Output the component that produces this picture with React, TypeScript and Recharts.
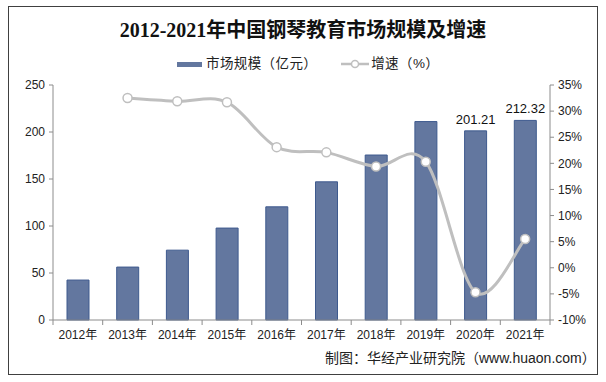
import React from 'react';
import { ComposedChart, Bar, Line, XAxis, YAxis, LabelList } from 'recharts';

const years = ['2012年', '2013年', '2014年', '2015年', '2016年', '2017年', '2018年', '2019年', '2020年', '2021年'];
const marketSize = [42.5, 56.3, 74.3, 97.8, 120.4, 147.0, 175.5, 211.1, 201.21, 212.32];
const growthRate = [null, 32.5, 31.9, 31.7, 23.1, 22.1, 19.4, 20.3, -4.7, 5.52];
const sizeTicks = [0, 50, 100, 150, 200, 250];
const rateTicks = [-10, -5, 0, 5, 10, 15, 20, 25, 30, 35];
const labelledYears = ['2020年', '2021年'];

const data = years.map((year, i) => ({ year, size: marketSize[i], rate: growthRate[i] }));

const W = 606;
const H = 382;
const FONT = "'Liberation Sans', Arial, 'Noto Sans CJK SC', sans-serif";
const BAR = '#63779f';
const BAR_EDGE = '#3e5a8e';
const LINE = '#bfbfbf';
const AXIS = '#8c8c8c';

// smoothed line like excel: bezier through the points, 1/6 tangents
const smoothCurve = (ctx: any) => {
  let pts: number[][] = [];
  return {
    areaStart() {},
    areaEnd() {},
    lineStart() {
      pts = [];
    },
    point(x: number, y: number) {
      pts.push([+x, +y]);
    },
    lineEnd() {
      if (!pts.length) return;
      ctx.moveTo(pts[0][0], pts[0][1]);
      for (let i = 0; i < pts.length - 1; i++) {
        const p0 = pts[i - 1] || pts[i];
        const p1 = pts[i];
        const p2 = pts[i + 1];
        const p3 = pts[i + 2] || p2;
        ctx.bezierCurveTo(
          p1[0] + (p2[0] - p0[0]) / 6,
          p1[1] + (p2[1] - p0[1]) / 6,
          p2[0] - (p3[0] - p1[0]) / 6,
          p2[1] - (p3[1] - p1[1]) / 6,
          p2[0],
          p2[1]
        );
      }
    },
  };
};

const YearTick = (props: any) => {
  const { x, y, payload, index } = props;
  const step = (W - 53 - 56) / years.length;
  const axisY = y - 10;
  return (
    <g>
      <line x1={x - step / 2} x2={x - step / 2} y1={axisY} y2={axisY + 5} stroke={AXIS} />
      {index === years.length - 1 && (
        <line x1={x + step / 2} x2={x + step / 2} y1={axisY} y2={axisY + 5} stroke={AXIS} />
      )}
      <text x={x} y={y} dy="0.71em" textAnchor="middle" fontSize={12} fill="#222" fontFamily={FONT}>
        {payload.value}
      </text>
    </g>
  );
};

const TopLabel = (props: any) => {
  const { x, y, width, value, index } = props;
  if (!labelledYears.includes(years[index])) return null;
  return (
    <text x={x + width / 2} y={y - 7} textAnchor="middle" fontSize={13} fill="#111" fontFamily={FONT}>
      {value}
    </text>
  );
};

export default function App() {
  return (
    <div style={{ position: 'fixed', left: 0, top: 0, width: W, height: H, background: '#fff', fontFamily: FONT }}>
      <div
        style={{
          position: 'absolute',
          left: 8,
          top: 6,
          width: 590,
          height: 369,
          border: '1px solid #404040',
          boxSizing: 'border-box',
        }}
      />
      <div
        style={{
          position: 'absolute',
          left: 0,
          width: W,
          top: 15,
          textAlign: 'center',
          fontSize: 20,
          fontWeight: 'bold',
          color: '#111',
          fontFamily: "'Liberation Serif', 'Noto Sans CJK SC', serif",
          lineHeight: '30px',
        }}
      >
        2012-2021年中国钢琴教育市场规模及增速
      </div>
      <div
        style={{
          position: 'absolute',
          left: 177,
          top: 55,
          display: 'flex',
          alignItems: 'center',
          fontSize: 13.5,
          color: '#222',
          lineHeight: '18px',
          whiteSpace: 'nowrap',
        }}
      >
        <span style={{ display: 'inline-block', width: 25, height: 5, background: BAR, marginRight: 4 }} />
        <span style={{ letterSpacing: 0.4 }}>市场规模（亿元）</span>
        <svg width={28} height={12} style={{ marginLeft: 24, marginRight: 2 }}>
          <line x1={0} x2={28} y1={6} y2={6} stroke={LINE} strokeWidth={2.5} />
          <circle cx={14} cy={6} r={3.5} fill="#fff" stroke={LINE} strokeWidth={1.5} />
        </svg>
        <span style={{ letterSpacing: 0.4 }}>增速（%）</span>
      </div>
      <div style={{ position: 'absolute', left: 0, top: 0 }}>
        <ComposedChart width={W} height={H} data={data} margin={{ top: 85, right: 0, bottom: 32, left: 0 }}>
          <XAxis
            dataKey="year"
            height={30}
            tick={<YearTick />}
            tickLine={false}
            tickSize={5}
            tickMargin={5}
            axisLine={{ stroke: AXIS }}
            interval={0}
          />
          <YAxis
            yAxisId="size"
            width={53}
            domain={[0, 250]}
            ticks={sizeTicks}
            tick={{ fontSize: 12, fill: '#222', fontFamily: FONT }}
            tickSize={4}
            tickMargin={4}
            tickLine={{ stroke: AXIS }}
            axisLine={{ stroke: AXIS }}
          />
          <YAxis
            yAxisId="rate"
            orientation="right"
            width={56}
            domain={[-10, 35]}
            ticks={rateTicks}
            tickFormatter={(v: number) => `${v}%`}
            tick={{ fontSize: 12, fill: '#222', fontFamily: FONT }}
            tickSize={4}
            tickMargin={4}
            tickLine={{ stroke: AXIS }}
            axisLine={{ stroke: AXIS }}
          />
          <Bar yAxisId="size" dataKey="size" barSize={22} fill={BAR} stroke={BAR_EDGE} strokeWidth={1} isAnimationActive={false}>
            <LabelList dataKey="size" content={<TopLabel />} />
          </Bar>
          <Line
            yAxisId="rate"
            dataKey="rate"
            type={smoothCurve as any}
            stroke={LINE}
            strokeWidth={3}
            dot={{ r: 4.5, fill: '#fff', stroke: LINE, strokeWidth: 1.5 }}
            activeDot={false}
            isAnimationActive={false}
          />
        </ComposedChart>
      </div>
      <div
        style={{
          position: 'absolute',
          left: 325,
          top: 349,
          fontSize: 14,
          color: '#222',
          lineHeight: '18px',
          whiteSpace: 'nowrap',
        }}
      >
        制图：华经产业研究院（www.huaon.com）
      </div>
    </div>
  );
}
